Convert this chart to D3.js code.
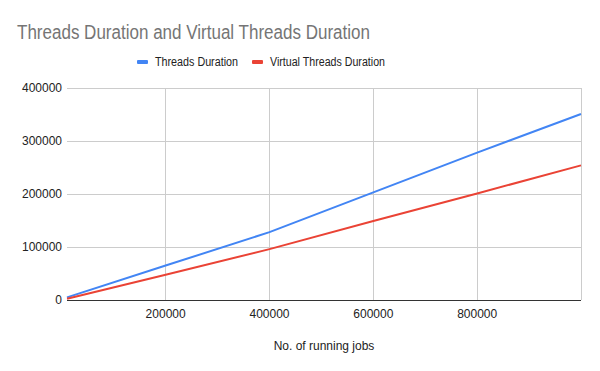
<!DOCTYPE html>
<html>
<head>
<meta charset="utf-8">
<script src="https://cdn.jsdelivr.net/npm/d3@7"></script>
<style>
  body { margin: 0; background: #fff; }
  text { font-family: "Liberation Sans", Arial, sans-serif; }
</style>
</head>
<body>
<div id="chart"></div>
<script>
// values
var jobs = [10000, 200000, 400000, 600000, 800000, 1000000]
var threadsDuration = [5000, 65000, 128000, 203000, 278000, 351000]
var virtualDuration = [2500, 47500, 96000, 149000, 201000, 254000]
var xTicks = [200000, 400000, 600000, 800000]
var yTicks = [0, 100000, 200000, 300000, 400000]

var W = 600, H = 371
var margin = { top: 88, right: 19, bottom: 71, left: 67 }
var width = W - margin.left - margin.right,
    height = H - margin.top - margin.bottom

var series = [
  { name: 'Threads Duration', color: '#4285f4', values: threadsDuration, w: 83 },
  { name: 'Virtual Threads Duration', color: '#ea4335', values: virtualDuration, w: 115 }
]

var svg = d3.select('#chart').append('svg')
  .attr('width', W)
  .attr('height', H)

var x = d3.scaleLinear().domain([10000, 1000000]).range([0, width])
var y = d3.scaleLinear().domain([0, 400000]).range([height, 0])

// title (the original font is narrower, squeeze it to the same width)
svg.append('text')
  .attr('x', 17)
  .attr('y', 39)
  .attr('textLength', 353)
  .attr('lengthAdjust', 'spacingAndGlyphs')
  .style('font-size', '20px')
  .style('fill', '#757575')
  .text('Threads Duration and Virtual Threads Duration')

// legend
var legend = svg.append('g').attr('class', 'legend')
var lx = [137, 252]
series.forEach(function(s, i) {
  var g = legend.append('g').attr('transform', 'translate(' + lx[i] + ',62)')
  g.append('rect').attr('x', 0).attr('y', -2).attr('width', 11).attr('height', 4)
    .attr('rx', 1).style('fill', s.color)
  g.append('text').attr('x', 18).attr('y', 4)
    .attr('textLength', s.w)
    .attr('lengthAdjust', 'spacingAndGlyphs')
    .style('font-size', '12px').style('fill', '#222')
    .text(s.name)
})

var g = svg.append('g')
  .attr('transform', 'translate(' + margin.left + ',' + margin.top + ')')

// grid
g.selectAll('.hgrid').data(yTicks.slice(1)).enter().append('line')
  .attr('class', 'hgrid')
  .attr('x1', 0).attr('x2', width)
  .attr('y1', d => y(d)).attr('y2', d => y(d))
  .style('stroke', '#cccccc').style('stroke-width', 1)
  .attr('shape-rendering', 'crispEdges')

g.selectAll('.vgrid').data(xTicks.concat([1000000])).enter().append('line')
  .attr('class', 'vgrid')
  .attr('x1', d => x(d)).attr('x2', d => x(d))
  .attr('y1', 0).attr('y2', height)
  .style('stroke', '#cccccc').style('stroke-width', 1)
  .attr('shape-rendering', 'crispEdges')

// y labels
g.selectAll('.ylab').data(yTicks).enter().append('text')
  .attr('class', 'ylab')
  .attr('x', -5)
  .attr('y', d => y(d))
  .attr('dy', '0.35em')
  .attr('text-anchor', 'end')
  .style('font-size', '12px').style('fill', '#222')
  .text(d => d)

// x labels
g.selectAll('.xlab').data(xTicks).enter().append('text')
  .attr('class', 'xlab')
  .attr('x', d => x(d))
  .attr('y', height + 14)
  .attr('dy', '0.35em')
  .attr('text-anchor', 'middle')
  .style('font-size', '12px').style('fill', '#222')
  .text(d => d)

// x title
g.append('text')
  .attr('x', width / 2)
  .attr('y', height + 46)
  .attr('dy', '0.35em')
  .attr('text-anchor', 'middle')
  .style('font-size', '12px').style('fill', '#222')
  .text('No. of running jobs')

// lines
var line = d3.line()
  .x(function(d, i) { return x(jobs[i]) })
  .y(function(d) { return y(d) })

series.forEach(function(s) {
  g.append('path')
    .datum(s.values)
    .attr('d', line)
    .style('fill', 'none')
    .style('stroke', s.color)
    .style('stroke-width', 2)
})

// baseline
g.append('line')
  .attr('x1', 0).attr('x2', width)
  .attr('y1', height).attr('y2', height)
  .style('stroke', '#333').style('stroke-width', 1)
  .attr('shape-rendering', 'crispEdges')
</script>
</body>
</html>
